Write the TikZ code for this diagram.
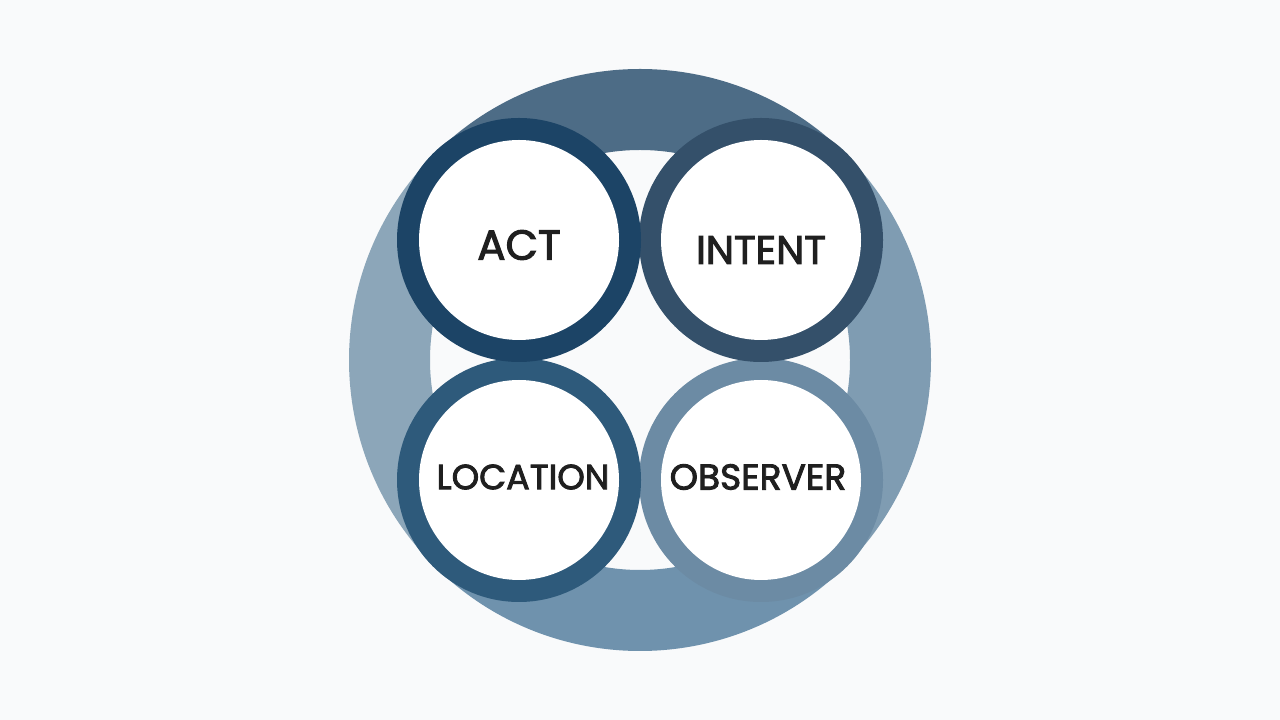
\documentclass[tikz,border=0pt]{standalone}
\usepackage{fontspec}
\usetikzlibrary{calc}
\setmainfont{Poppins}
\newfontfamily\labelfont{Poppins}[FakeBold=2.5]
\definecolor{bg}{HTML}{F9FAFB}
\definecolor{ringtop}{HTML}{4D6C86}
\definecolor{ringleft}{HTML}{8CA6B9}
\definecolor{ringbot}{HTML}{6F92AD}
\definecolor{ringright}{HTML}{7F9CB2}
\definecolor{cact}{HTML}{1C4466}
\definecolor{cint}{HTML}{34506A}
\definecolor{cloc}{HTML}{2E5A7B}
\definecolor{cobs}{HTML}{6C8BA4}
\tikzset{
  circ/.style={circle,minimum size=244pt,inner sep=0pt,draw=none},
  inner/.style={circle,minimum size=200pt,inner sep=0pt,fill=white},
  lbl/.style={text=black!88,inner sep=0pt}
}
\begin{document}
\begin{tikzpicture}[x=1pt,y=1pt]
\fill[bg] (0,0) rectangle (1280,720);
\useasboundingbox (0,0) rectangle (1280,720);
\coordinate (c) at (640,360);
\fill[ringtop] ($(c)+(45:291)$) arc (45:135:291) -- ($(c)+(135:210)$) arc (135:45:210) -- cycle;
\fill[ringleft] ($(c)+(135:291)$) arc (135:225:291) -- ($(c)+(225:210)$) arc (225:135:210) -- cycle;
\fill[ringbot] ($(c)+(225:291)$) arc (225:315:291) -- ($(c)+(315:210)$) arc (315:225:210) -- cycle;
\fill[ringright] ($(c)+(315:291)$) arc (315:405:291) -- ($(c)+(405:210)$) arc (405:315:210) -- cycle;
\node[circ,fill=cobs] (obsring) at (761,240) {};
\node[circ,fill=cloc] (locring) at (519,240) {};
\node[circ,fill=cint] (intring) at (761,480) {};
\node[circ,fill=cact] (actring) at (519,480) {};
\node[inner] (act) at (actring) {};
\node[inner] (intent) at (intring) {};
\node[inner] (loc) at (locring) {};
\node[inner] (obs) at (obsring) {};
\node[lbl,font=\labelfont\fontsize{42}{46}\selectfont] at ([yshift=-5pt]act) {ACT};
\node[lbl,font=\labelfont\fontsize{40}{44}\selectfont] at ([yshift=-10pt]intent) {INTENT};
\node[lbl,font=\labelfont\fontsize{35}{40}\selectfont] at ([xshift=4pt,yshift=3pt]loc) {LOCATION};
\node[lbl,font=\labelfont\fontsize{36}{40}\selectfont] at ([xshift=-3pt,yshift=3pt]obs) {OBSERVER};
\end{tikzpicture}
\end{document}
